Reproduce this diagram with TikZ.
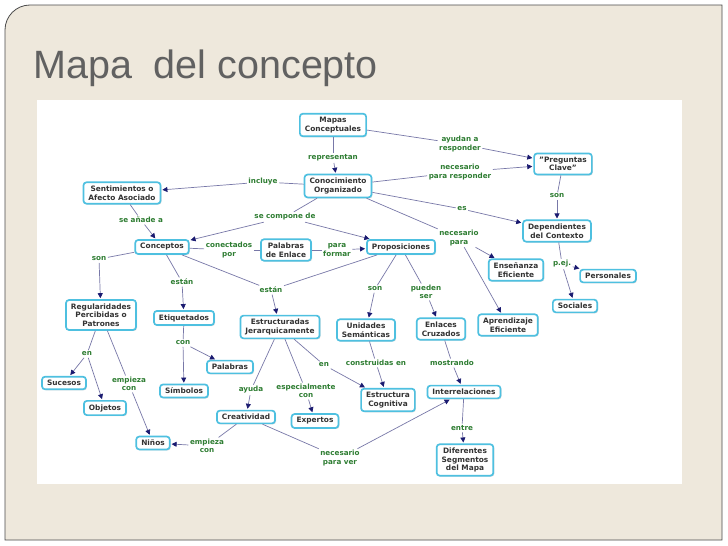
\documentclass[tikz,border=0pt]{standalone}
\usepackage{fontspec}
\setmainfont{DejaVu Sans}
\newfontfamily\titlefont{Liberation Sans}
\usetikzlibrary{arrows.meta,shadows}
\definecolor{bg}{HTML}{EEE8DC}
\definecolor{bdr}{HTML}{4EC0E0}
\definecolor{lnk}{HTML}{7878A8}
\definecolor{lbl}{HTML}{2E7D32}
\definecolor{arr}{HTML}{1A1A70}
\tikzset{
 cn/.style={draw=bdr,line width=1.7pt,rounded corners=3pt,fill=white,align=center,
   font=\bfseries\fontsize{7.4}{8.6}\selectfont,text=black!80,inner xsep=5pt,inner ysep=3.5pt,
   drop shadow={shadow xshift=1pt,shadow yshift=-1pt,opacity=0.25}},
 lb/.style={font=\bfseries\fontsize{7.2}{8.2}\selectfont,text=lbl,align=center,inner sep=1.5pt},
 ln/.style={draw=lnk,line width=0.7pt},
 ar/.style={ln,-{Triangle[length=5pt,width=5pt,color=arr]},shorten >=1pt},
}
\begin{document}
\begin{tikzpicture}[x=1pt,y=-1pt]
\useasboundingbox (0,0) rectangle (728,546);
\fill[white] (0,0) rectangle (728,546);
\draw[fill=bg,draw=black!70,line width=0.8pt] (5,540) -- (5,30) arc[start angle=180,end angle=270,radius=25] -- (722,5) -- (722,540) -- cycle;
\node[anchor=base west,font=\titlefont\fontsize{39.5}{42}\selectfont,text=black!62,inner sep=0] (title) at (33,78) {Mapa\ \ del concepto};
\fill[white] (37,100) rectangle (682,484);
% nodes
\node[cn] (mc) at (333,125) {Mapas\\Conceptuales};
\node[cn] (co) at (338,186) {Conocimiento\\Organizado};
\node[cn] (sa) at (122,193) {Sentimientos o\\Afecto Asociado};
\node[cn] (pc) at (563,164) {"Preguntas\\Clave"};
\node[cn] (dc) at (557,231) {Dependientes\\del Contexto};
\node[cn] (cp) at (162,247) {Conceptos};
\node[cn] (pe) at (286,250) {Palabras\\de Enlace};
\node[cn] (pr) at (401,247) {Proposiciones};
\node[cn] (ee) at (516,270) {Enseñanza\\Eficiente};
\node[cn] (pn) at (608,276) {Personales};
\node[cn] (so) at (575,306) {Sociales};
\node[cn] (ae) at (508,325) {Aprendizaje\\Eficiente};
\node[cn] (rg) at (101,315) {Regularidades\\Percibidas o\\Patrones};
\node[cn] (et) at (184,318) {Etiquetados};
\node[cn] (ej) at (280,327) {Estructuradas\\Jerarquicamente};
\node[cn] (us) at (366,330) {Unidades\\Semánticas};
\node[cn] (ec) at (441,329) {Enlaces\\Cruzados};
\node[cn] (pa) at (230,367) {Palabras};
\node[cn] (su) at (64,383) {Sucesos};
\node[cn] (si) at (184,391) {Símbolos};
\node[cn] (ob) at (105,408) {Objetos};
\node[cn] (cr) at (246,417) {Creatividad};
\node[cn] (ex) at (315,421) {Expertos};
\node[cn] (es) at (388,400) {Estructura\\Cognitiva};
\node[cn] (ir) at (464,392) {Interrelaciones};
\node[cn] (ni) at (153,443) {Niños};
\node[cn] (ds) at (465,460) {Diferentes\\Segmentos\\del Mapa};
% labels
\node[lb] (l1) at (333,158) {representan};
\node[lb] (l2) at (263,182) {incluye};
\node[lb] (l3) at (460,144) {ayudan a\\responder};
\node[lb] (l4) at (460,172) {necesario\\para responder};
\node[lb] (l5) at (462,209) {es};
\node[lb] (l6) at (285,217) {se compone de};
\node[lb] (l7) at (459,238) {necesario\\para};
\node[lb] (l8) at (141,220) {se añade a};
\node[lb] (l9) at (229,250) {conectados\\por};
\node[lb] (l10) at (337,250) {para\\formar};
\node[lb] (l11) at (99,259) {son};
\node[lb] (l12) at (182,282) {están};
\node[lb] (l13) at (271,290) {están};
\node[lb] (l14) at (375,289) {son};
\node[lb] (l15) at (426,292) {pueden\\ser};
\node[lb] (l16) at (557,196) {son};
\node[lb] (l17) at (562,264) {p.ej.};
\node[lb] (l18) at (87,354) {en};
\node[lb] (l19) at (129,384) {empieza\\con};
\node[lb] (l20) at (183,343) {con};
\node[lb] (l21) at (251,390) {ayuda};
\node[lb] (l22) at (306,391) {especialmente\\con};
\node[lb] (l23) at (324,365) {en};
\node[lb] (l24) at (376,363) {construidas en};
\node[lb] (l25) at (452,363) {mostrando};
\node[lb] (l26) at (462,428) {entre};
\node[lb] (l27) at (207,446) {empieza\\con};
\node[lb] (l28) at (340,458) {necesario\\para ver};
% connectors
\draw[ln] (mc) -- (l1); \draw[ar] (l1) -- (co);
\draw[ln] (co) -- (l2); \draw[ar] (l2) -- (sa);
\draw[ln] (mc) -- (l3); \draw[ar] (l3) -- (pc);
\draw[ln] (co) -- (l4); \draw[ar] (l4) -- (pc);
\draw[ln] (co) -- (l5); \draw[ar] (l5) -- (dc);
\draw[ln] (co) -- (l6); \draw[ar] (l6) -- (cp); \draw[ar] (l6) -- (pr);
\draw[ln] (co) -- (l7); \draw[ar] (l7) -- (ee); \draw[ar] (l7) -- (ae);
\draw[ln] (sa) -- (l8); \draw[ar] (l8) -- (cp);
\draw[ln] (cp) -- (l9); \draw[ln] (l9) -- (pe);
\draw[ln] (pe) -- (l10); \draw[ar] (l10) -- (pr);
\draw[ln] (cp) -- (l11); \draw[ar] (l11) -- (rg);
\draw[ln] (cp) -- (l12); \draw[ar] (l12) -- (et);
\draw[ln] (cp) -- (l13); \draw[ln] (pr) -- (l13); \draw[ar] (l13) -- (ej);
\draw[ln] (pr) -- (l14); \draw[ar] (l14) -- (us);
\draw[ln] (pr) -- (l15); \draw[ar] (l15) -- (ec);
\draw[ln] (pc) -- (l16); \draw[ar] (l16) -- (dc);
\draw[ln] (dc) -- (l17); \draw[ar] (l17) -- (pn); \draw[ar] (l17) -- (so);
\draw[ln] (rg) -- (l18); \draw[ar] (l18) -- (su); \draw[ar] (l18) -- (ob);
\draw[ln] (rg) -- (l19); \draw[ar] (l19) -- (ni);
\draw[ln] (et) -- (l20); \draw[ar] (l20) -- (pa); \draw[ar] (l20) -- (si);
\draw[ln] (ej) -- (l21); \draw[ar] (l21) -- (cr);
\draw[ln] (ej) -- (l22); \draw[ar] (l22) -- (ex);
\draw[ln] (ej) -- (l23); \draw[ar] (l23) -- (es);
\draw[ln] (us) -- (l24); \draw[ar] (l24) -- (es);
\draw[ln] (ec) -- (l25); \draw[ar] (l25) -- (ir);
\draw[ln] (ir) -- (l26); \draw[ar] (l26) -- (ds);
\draw[ln] (cr) -- (l27); \draw[ar] (l27) -- (ni);
\draw[ln] (cr) -- (l28); \draw[ar] (l28) -- (ir);
\end{tikzpicture}
\end{document}
